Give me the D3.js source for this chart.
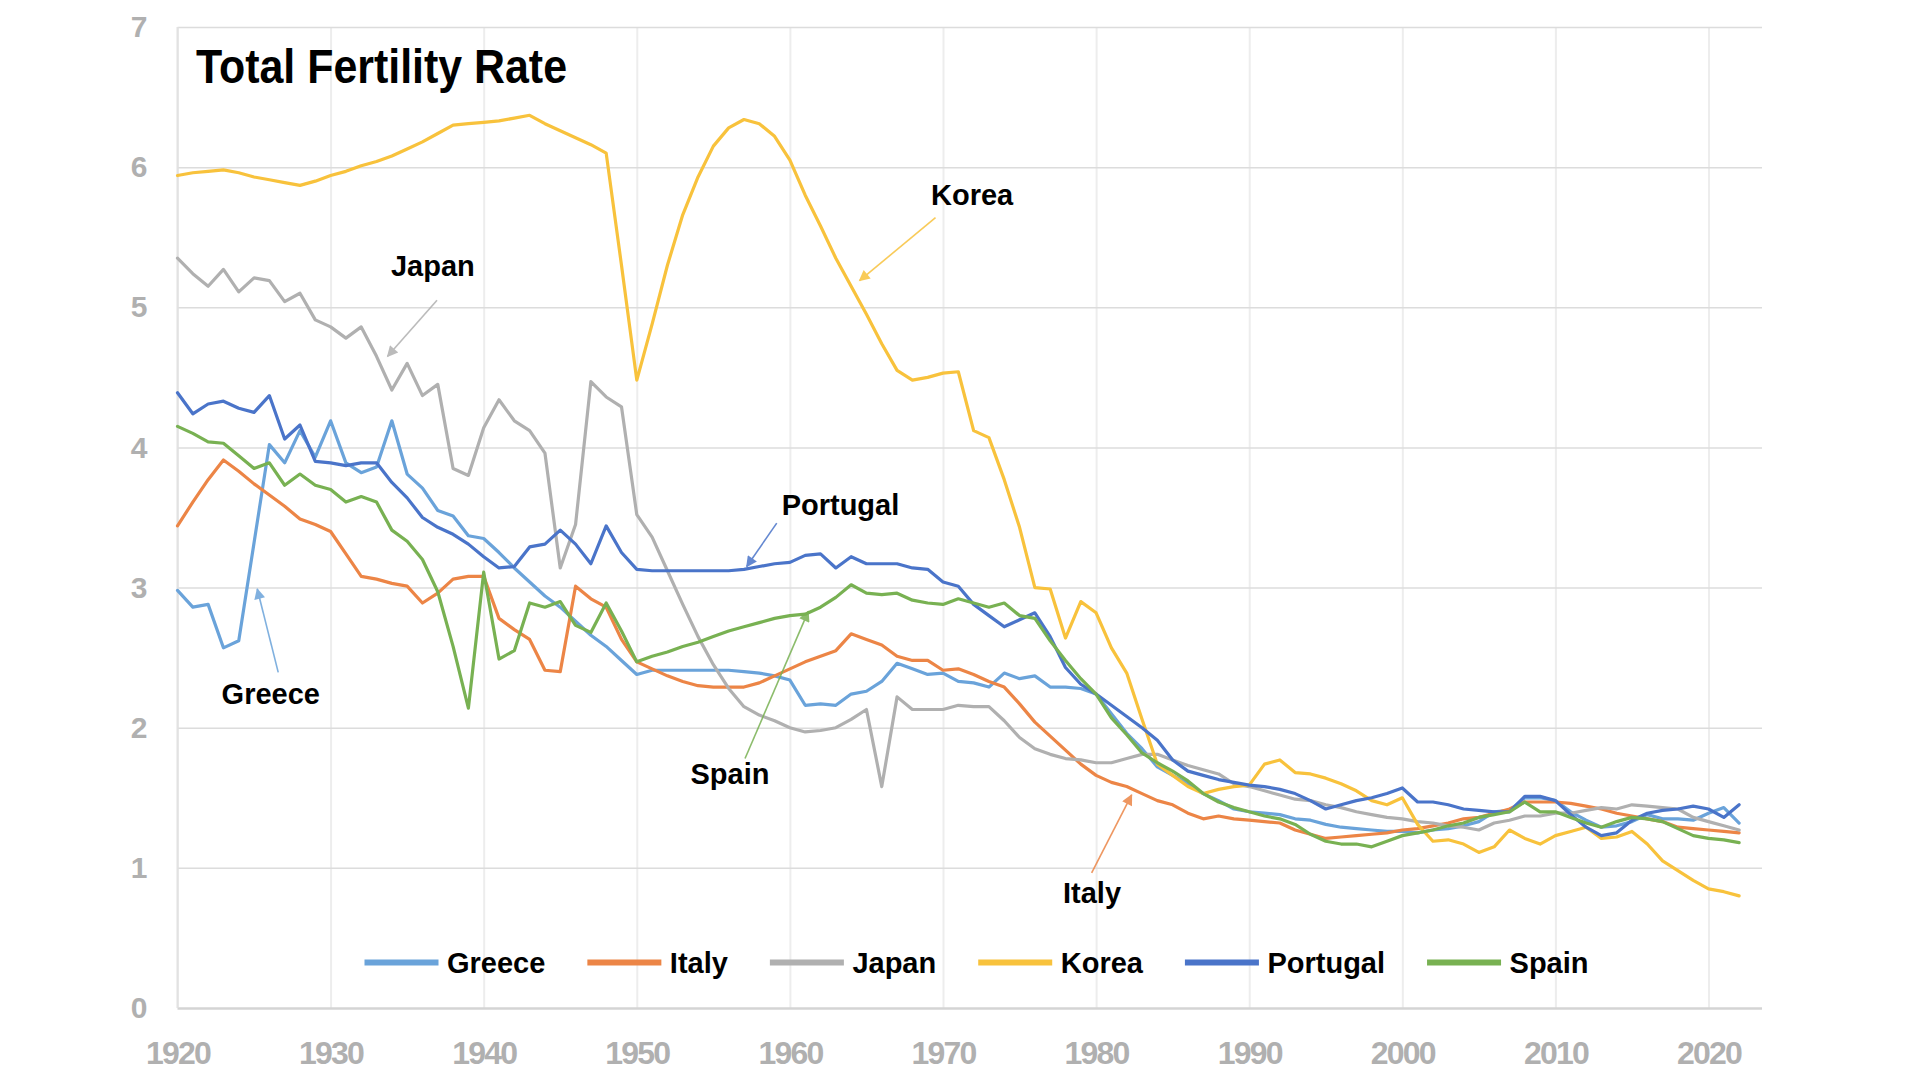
<!DOCTYPE html>
<html>
<head>
<meta charset="utf-8">
<script src="https://cdn.jsdelivr.net/npm/d3@7"></script>
<style>
  body { margin: 0; background: #fff; }
  svg text { font-family: 'Liberation Sans', Arial, sans-serif; }
</style>
</head>
<body>
<svg></svg>
<script>
/* global d3:true */

// data (1920 - 2022)
const years = d3.range(1920, 2023)

const greece = [2.98, 2.86, 2.88, 2.57, 2.62, 3.32, 4.02, 3.89, 4.12, 3.93,
  4.19, 3.89, 3.82, 3.86, 4.19, 3.81, 3.71, 3.55, 3.51, 3.37,
  3.35, 3.25, 3.14, 3.04, 2.94, 2.86, 2.76, 2.66, 2.58, 2.48,
  2.38, 2.41, 2.41, 2.41, 2.41, 2.41, 2.41, 2.40, 2.39, 2.37,
  2.34, 2.16, 2.17, 2.16, 2.24, 2.26, 2.33, 2.46, 2.42, 2.38,
  2.39, 2.33, 2.32, 2.29, 2.39, 2.35, 2.37, 2.29, 2.29, 2.28,
  2.24, 2.10, 1.96, 1.85, 1.72, 1.66, 1.60, 1.53, 1.48, 1.42,
  1.40, 1.39, 1.38, 1.35, 1.34, 1.31, 1.29, 1.28, 1.27, 1.26,
  1.26, 1.25, 1.27, 1.28, 1.30, 1.33, 1.40, 1.41, 1.50, 1.50,
  1.48, 1.40, 1.34, 1.29, 1.30, 1.33, 1.38, 1.35, 1.35, 1.34,
  1.39, 1.43, 1.32]

const italy = [3.44, 3.61, 3.77, 3.91, 3.83, 3.74, 3.66, 3.58, 3.49, 3.45,
  3.40, 3.24, 3.08, 3.06, 3.03, 3.01, 2.89, 2.96, 3.06, 3.08,
  3.08, 2.78, 2.70, 2.63, 2.41, 2.40, 3.01, 2.92, 2.86, 2.63,
  2.47, 2.42, 2.37, 2.33, 2.30, 2.29, 2.29, 2.29, 2.32, 2.37,
  2.42, 2.47, 2.51, 2.55, 2.67, 2.63, 2.59, 2.51, 2.48, 2.48,
  2.41, 2.42, 2.38, 2.33, 2.29, 2.17, 2.04, 1.94, 1.84, 1.74,
  1.66, 1.61, 1.58, 1.53, 1.48, 1.45, 1.39, 1.35, 1.37, 1.35,
  1.34, 1.33, 1.32, 1.27, 1.24, 1.21, 1.22, 1.23, 1.24, 1.25,
  1.27, 1.28, 1.30, 1.32, 1.35, 1.36, 1.39, 1.42, 1.47, 1.47,
  1.47, 1.46, 1.44, 1.42, 1.39, 1.37, 1.35, 1.33, 1.29, 1.28,
  1.27, 1.26, 1.25]

const japan = [5.35, 5.24, 5.15, 5.27, 5.11, 5.21, 5.19, 5.04, 5.10, 4.91,
  4.86, 4.78, 4.86, 4.65, 4.41, 4.60, 4.37, 4.45, 3.85, 3.80,
  4.14, 4.34, 4.19, 4.12, 3.96, 3.14, 3.45, 4.47, 4.36, 4.29,
  3.52, 3.36, 3.12, 2.88, 2.65, 2.45, 2.28, 2.15, 2.09, 2.05,
  2.00, 1.97, 1.98, 2.00, 2.06, 2.13, 1.58, 2.22, 2.13, 2.13,
  2.13, 2.16, 2.15, 2.15, 2.05, 1.93, 1.85, 1.81, 1.78, 1.77,
  1.75, 1.75, 1.78, 1.81, 1.81, 1.77, 1.73, 1.70, 1.67, 1.60,
  1.58, 1.55, 1.52, 1.49, 1.48, 1.45, 1.43, 1.40, 1.38, 1.36,
  1.35, 1.33, 1.32, 1.30, 1.29, 1.27, 1.32, 1.34, 1.37, 1.37,
  1.39, 1.39, 1.41, 1.43, 1.42, 1.45, 1.44, 1.43, 1.42, 1.36,
  1.33, 1.30, 1.27]

const korea = [5.94, 5.96, 5.97, 5.98, 5.96, 5.93, 5.91, 5.89, 5.87, 5.90,
  5.94, 5.97, 6.01, 6.04, 6.08, 6.13, 6.18, 6.24, 6.30, 6.31,
  6.32, 6.33, 6.35, 6.37, 6.31, 6.26, 6.21, 6.16, 6.10, 5.30,
  4.48, 4.88, 5.30, 5.66, 5.93, 6.15, 6.28, 6.34, 6.31, 6.22,
  6.05, 5.80, 5.58, 5.35, 5.15, 4.95, 4.74, 4.55, 4.48, 4.50,
  4.53, 4.54, 4.12, 4.07, 3.77, 3.43, 3.00, 2.99, 2.64, 2.90,
  2.82, 2.57, 2.39, 2.06, 1.74, 1.66, 1.58, 1.53, 1.56, 1.58,
  1.59, 1.74, 1.77, 1.68, 1.67, 1.64, 1.60, 1.55, 1.48, 1.45,
  1.50, 1.31, 1.19, 1.20, 1.17, 1.11, 1.15, 1.27, 1.21, 1.17,
  1.23, 1.26, 1.29, 1.21, 1.22, 1.26, 1.17, 1.05, 0.98, 0.91,
  0.85, 0.83, 0.80]

const portugal = [4.39, 4.24, 4.31, 4.33, 4.28, 4.25, 4.37, 4.06, 4.16, 3.90,
  3.89, 3.87, 3.89, 3.89, 3.75, 3.64, 3.50, 3.43, 3.38, 3.31,
  3.22, 3.14, 3.15, 3.29, 3.31, 3.41, 3.31, 3.17, 3.44, 3.25,
  3.13, 3.12, 3.12, 3.12, 3.12, 3.12, 3.12, 3.13, 3.15, 3.17,
  3.18, 3.23, 3.24, 3.14, 3.22, 3.17, 3.17, 3.17, 3.14, 3.13,
  3.04, 3.01, 2.88, 2.80, 2.72, 2.77, 2.82, 2.65, 2.43, 2.31,
  2.24, 2.16, 2.08, 2.00, 1.91, 1.77, 1.69, 1.66, 1.63, 1.61,
  1.59, 1.58, 1.56, 1.53, 1.48, 1.42, 1.45, 1.48, 1.50, 1.53,
  1.57, 1.47, 1.47, 1.45, 1.42, 1.41, 1.40, 1.40, 1.51, 1.51,
  1.48, 1.38, 1.29, 1.23, 1.25, 1.34, 1.39, 1.41, 1.42, 1.44,
  1.42, 1.36, 1.45]

const spain = [4.15, 4.10, 4.04, 4.03, 3.94, 3.85, 3.89, 3.73, 3.81, 3.73,
  3.70, 3.61, 3.65, 3.61, 3.41, 3.33, 3.20, 2.97, 2.58, 2.14,
  3.11, 2.49, 2.55, 2.89, 2.86, 2.90, 2.73, 2.68, 2.89, 2.69,
  2.47, 2.51, 2.54, 2.58, 2.61, 2.65, 2.69, 2.72, 2.75, 2.78,
  2.80, 2.81, 2.86, 2.93, 3.02, 2.96, 2.95, 2.96, 2.91, 2.89,
  2.88, 2.92, 2.89, 2.86, 2.89, 2.80, 2.78, 2.62, 2.48, 2.35,
  2.24, 2.07, 1.95, 1.82, 1.75, 1.69, 1.62, 1.53, 1.47, 1.43,
  1.40, 1.37, 1.35, 1.31, 1.24, 1.19, 1.17, 1.17, 1.15, 1.19,
  1.23, 1.25, 1.27, 1.30, 1.32, 1.36, 1.38, 1.40, 1.47, 1.40,
  1.40, 1.36, 1.32, 1.29, 1.33, 1.36, 1.35, 1.33, 1.28, 1.23,
  1.21, 1.20, 1.18]

const countries = ['Greece', 'Italy', 'Japan', 'Korea', 'Portugal', 'Spain']
const seriesValues = [greece, italy, japan, korea, portugal, spain]
const yTicks = [0, 1, 2, 3, 4, 5, 6, 7]
const xTicks = [1920, 1930, 1940, 1950, 1960, 1970, 1980, 1990, 2000, 2010, 2020]

// colours (office palette, a bit washed out like the picture)
const colors = ['#6aa3da', '#ec8546', '#b0b0b0', '#f8c23c', '#4a74c9', '#78b152']

// callout labels, placed in data units
const callouts = [
  { name: 'Japan', label: [1933.94, 5.22], from: [1936.95, 5.05], to: [1933.72, 4.65] },
  { name: 'Korea', label: [1969.22, 5.73], from: [1969.51, 5.64], to: [1964.55, 5.19] },
  { name: 'Portugal', label: [1959.46, 3.52], from: [1959.14, 3.46], to: [1957.18, 3.15] },
  { name: 'Spain', label: [1953.51, 1.60], from: [1957.07, 1.78], to: [1961.2, 2.83] },
  { name: 'Italy', label: [1977.84, 0.75], from: [1979.71, 0.965], to: [1982.32, 1.52] },
  { name: 'Greece', label: [1922.88, 2.17], from: [1926.58, 2.395], to: [1925.21, 2.99] }
]

const app = () => {
  const w = 1920
  const h = 1080
  const left = 177.5
  const right = 1762
  const top = 27
  const bottom = 1008

  const svg = d3.select('svg')
    .attr('width', w)
    .attr('height', h)

  const series = countries.map((c, i) => ({
    name: c,
    color: colors[i],
    values: years.map((yr, j) => ({ year: yr, value: seriesValues[i][j] }))
  }))

  // scales
  const xScale = d3.scaleLinear()
    .domain([1920, 2020])
    .range([left, 1708.5])

  const yScale = d3.scaleLinear()
    .domain([0, 7])
    .range([bottom, top])

  // vertical grid + year labels
  const xAxis = d3.axisBottom(xScale)
    .tickValues(xTicks)
    .tickFormat(d3.format('d'))
    .tickSize(-(bottom - top))
    .tickPadding(33)

  const gx = svg.append('g')
    .attr('transform', `translate(0, ${bottom})`)
    .call(xAxis)
  gx.select('.domain').remove()
  gx.selectAll('line')
    .attr('stroke', '#ededed')
    .attr('stroke-width', 2)
  gx.selectAll('text')
    .attr('fill', '#b0b0b0')
    .style('font-size', '32px')
    .style('font-weight', 700)
    .style('letter-spacing', '-1.8px')

  // horizontal grid + value labels
  const yAxis = d3.axisLeft(yScale)
    .tickValues(yTicks)
    .tickFormat(d3.format('d'))
    .tickSize(-(right - left))
    .tickPadding(30)

  const gy = svg.append('g')
    .attr('transform', `translate(${left}, 0)`)
    .call(yAxis)
  gy.select('.domain').remove()
  gy.selectAll('line')
    .attr('stroke', (d) => d === 0 ? '#d4d4d4' : '#dcdcdc')
    .attr('stroke-width', (d) => d === 0 ? 2.5 : 1.5)
  gy.selectAll('text')
    .attr('fill', '#b0b0b0')
    .style('font-size', '30px')
    .style('font-weight', 700)

  // left edge of plot
  svg.append('line')
    .attr('x1', left)
    .attr('x2', left)
    .attr('y1', top)
    .attr('y2', bottom)
    .attr('stroke', '#e2e2e2')
    .attr('stroke-width', 2)

  // title
  svg.append('text')
    .attr('x', 196)
    .attr('y', 83)
    .attr('textLength', 371)
    .attr('lengthAdjust', 'spacingAndGlyphs')
    .style('font-size', '48px')
    .style('font-weight', 700)
    .attr('fill', '#000')
    .text('Total Fertility Rate')

  // lines
  const line = d3.line()
    .x(d => xScale(d.year))
    .y(d => yScale(d.value))

  svg.append('g')
    .selectAll('path')
    .data(series)
    .enter()
    .append('path')
    .attr('d', d => line(d.values))
    .attr('fill', 'none')
    .attr('stroke', d => d.color)
    .attr('stroke-width', 3.2)
    .attr('stroke-linejoin', 'round')
    .attr('stroke-linecap', 'round')

  // arrow heads
  const defs = svg.append('defs')
  series.forEach((s, i) => {
    defs.append('marker')
      .attr('id', `arrow-${i}`)
      .attr('viewBox', '0 0 10 10')
      .attr('refX', 9)
      .attr('refY', 5)
      .attr('markerUnits', 'userSpaceOnUse')
      .attr('markerWidth', 13)
      .attr('markerHeight', 11)
      .attr('orient', 'auto')
      .append('path')
      .attr('d', 'M0,0L10,5L0,10z')
      .attr('fill', s.color)
  })

  // callouts
  const ann = svg.append('g')
  callouts.forEach((c) => {
    const i = countries.indexOf(c.name)
    ann.append('line')
      .attr('x1', xScale(c.from[0]))
      .attr('y1', yScale(c.from[1]))
      .attr('x2', xScale(c.to[0]))
      .attr('y2', yScale(c.to[1]))
      .attr('stroke', colors[i])
      .attr('stroke-width', 1.6)
      .attr('opacity', 0.85)
      .attr('marker-end', `url(#arrow-${i})`)
    ann.append('text')
      .attr('x', xScale(c.label[0]))
      .attr('y', yScale(c.label[1]))
      .style('font-size', '29px')
      .style('font-weight', 700)
      .attr('fill', '#000')
      .text(c.name)
  })

  // legend
  const legendY = 962.5
  let lx = 364.5
  const legend = svg.append('g')
  series.forEach((s) => {
    legend.append('line')
      .attr('x1', lx)
      .attr('x2', lx + 74)
      .attr('y1', legendY)
      .attr('y2', legendY)
      .attr('stroke', s.color)
      .attr('stroke-width', 6)
    const t = legend.append('text')
      .attr('x', lx + 82.5)
      .attr('y', legendY + 10.5)
      .style('font-size', '29px')
      .style('font-weight', 700)
      .attr('fill', '#000')
      .text(s.name)
    lx = lx + 82.5 + t.node().getComputedTextLength() + 42
  })
}

app()
</script>
</body>
</html>
